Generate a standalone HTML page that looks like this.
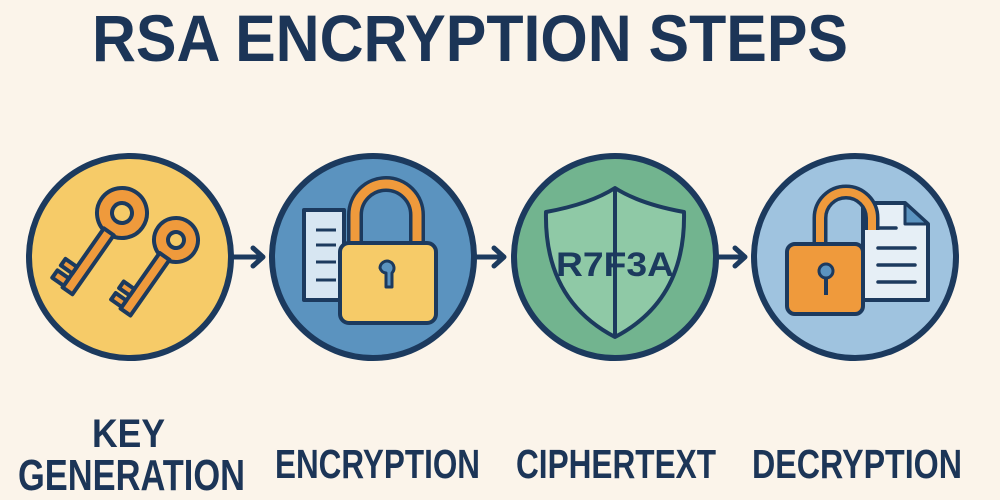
<!DOCTYPE html>
<html><head><meta charset="utf-8"><style>
html,body{margin:0;padding:0;background:#fbf4ea;}
svg{display:block}
text{font-family:"Liberation Sans",sans-serif;font-weight:bold;fill:#1c3557}
</style></head><body>
<svg width="1000" height="500" viewBox="0 0 1000 500">
<rect width="1000" height="500" fill="#fbf4ea"/>
<text x="92" y="61" font-size="66" textLength="756" lengthAdjust="spacingAndGlyphs">RSA ENCRYPTION STEPS</text>

<g stroke="#1c3a5e" stroke-width="6">
<circle cx="130" cy="257" r="101" fill="#f6cb68"/>
<circle cx="373" cy="257" r="101" fill="#5b93bf"/>
<circle cx="615" cy="257" r="101" fill="#72b48f"/>
<circle cx="855" cy="257" r="101" fill="#9fc3df"/>
</g>
<!-- arrows -->
<g stroke="#1c3a5e" stroke-width="5" fill="none" stroke-linecap="round" stroke-linejoin="round">
<line x1="234" y1="257" x2="262" y2="257"/><polyline points="253,248 263,257 253,266"/>
<line x1="477" y1="257" x2="503" y2="257"/><polyline points="494,248 504,257 494,266"/>
<line x1="719" y1="257" x2="743" y2="257"/><polyline points="735,248 745,257 735,266"/>
</g>

<!-- keys -->
<g stroke="#1c3a5e" stroke-width="4" fill="#ef9a3c" stroke-linejoin="round">
<g transform="translate(122,213) rotate(35)">
<circle cx="0" cy="0" r="25"/>
<path d="M-6,23 L-6,95 L6,95 L6,23 Z"/>
<path d="M-6,70 L-20,70 L-20,78 L-6,78 Z M-6,84 L-20,84 L-20,93 L-6,93 Z"/>
<circle cx="0" cy="0" r="10" fill="#f6cb68"/>
</g>
<g transform="translate(176,240) rotate(35)">
<circle cx="0" cy="0" r="22"/>
<path d="M-6,20 L-6,88 L6,88 L6,20 Z"/>
<path d="M-6,64 L-19,64 L-19,72 L-6,72 Z M-6,78 L-19,78 L-19,86 L-6,86 Z"/>
<circle cx="0" cy="0" r="8" fill="#f6cb68"/>
</g>
</g>

<!-- encryption lock -->
<g stroke="#1c3a5e" stroke-width="4" stroke-linejoin="round">
<rect x="304" y="210" width="40" height="90" fill="#d7e6f2"/>
<g stroke-width="3"><line x1="316" y1="230" x2="336" y2="230"/><line x1="316" y1="245" x2="336" y2="245"/><line x1="316" y1="262" x2="336" y2="262"/><line x1="316" y1="280" x2="336" y2="280"/></g>
<path d="M355,245 L355,215 A31,31 0 0 1 417,215 L417,245" fill="none" stroke="#1c3a5e" stroke-width="16"/>
<path d="M355,245 L355,215 A31,31 0 0 1 417,215 L417,245" fill="none" stroke="#ef9a3c" stroke-width="9"/>
<rect x="340" y="243" width="96" height="80" rx="9" fill="#f6cb68"/>
<path d="M380,268 a7,7 0 1 1 12,5 l0,14 l-6,0 l0,-14 a7,7 0 0 1 -6,-5z" fill="#5b93bf" stroke-width="3"/>
</g>

<!-- shield -->
<g stroke="#1c3a5e" stroke-width="4" stroke-linejoin="round">
<path d="M546,212 Q590,204 615,188 Q640,204 684,212 Q686,300 615,337 Q544,300 546,212 Z" fill="#8fc9a6"/>
<line x1="615" y1="190" x2="615" y2="335"/>
</g>
<text x="556" y="276" font-size="34" textLength="118" lengthAdjust="spacingAndGlyphs" style="fill:#1c3a5e">R7F3A</text>

<!-- decryption -->
<g stroke="#1c3a5e" stroke-width="4" stroke-linejoin="round">
<path d="M863,203 L905,203 L928,224 L928,300 L863,300 Z" fill="#e6eff6"/>
<path d="M905,203 L905,224 L928,224 Z" fill="#5b93bf" stroke-width="3"/>
<g stroke-width="3.5" stroke-linecap="round"><line x1="880" y1="228" x2="896" y2="228"/><line x1="878" y1="248" x2="915" y2="248"/><line x1="878" y1="265" x2="915" y2="265"/><line x1="878" y1="282" x2="915" y2="282"/></g>
<path d="M820,248 L820,218 A26,26 0 0 1 872,218 L872,230" fill="none" stroke="#1c3a5e" stroke-width="15"/>
<path d="M820,248 L820,218 A26,26 0 0 1 872,218 L872,230" fill="none" stroke="#ef9a3c" stroke-width="8"/>
<rect x="787" y="244" width="76" height="70" rx="8" fill="#ef9a3c"/>
<circle cx="826" cy="271" r="7" fill="#5b93bf" stroke-width="3"/>
<line x1="826" y1="278" x2="826" y2="295" stroke-width="4"/>
</g>

<!-- labels -->
<text x="92" y="447" font-size="40" textLength="73" lengthAdjust="spacingAndGlyphs">KEY</text>
<text x="18" y="490" font-size="44" textLength="227" lengthAdjust="spacingAndGlyphs">GENERATION</text>
<text x="275" y="478" font-size="41" textLength="205" lengthAdjust="spacingAndGlyphs">ENCRYPTION</text>
<text x="516" y="478" font-size="41" textLength="200" lengthAdjust="spacingAndGlyphs">CIPHERTEXT</text>
<text x="752" y="478" font-size="41" textLength="210" lengthAdjust="spacingAndGlyphs">DECRYPTION</text>
</svg>
</body></html>
